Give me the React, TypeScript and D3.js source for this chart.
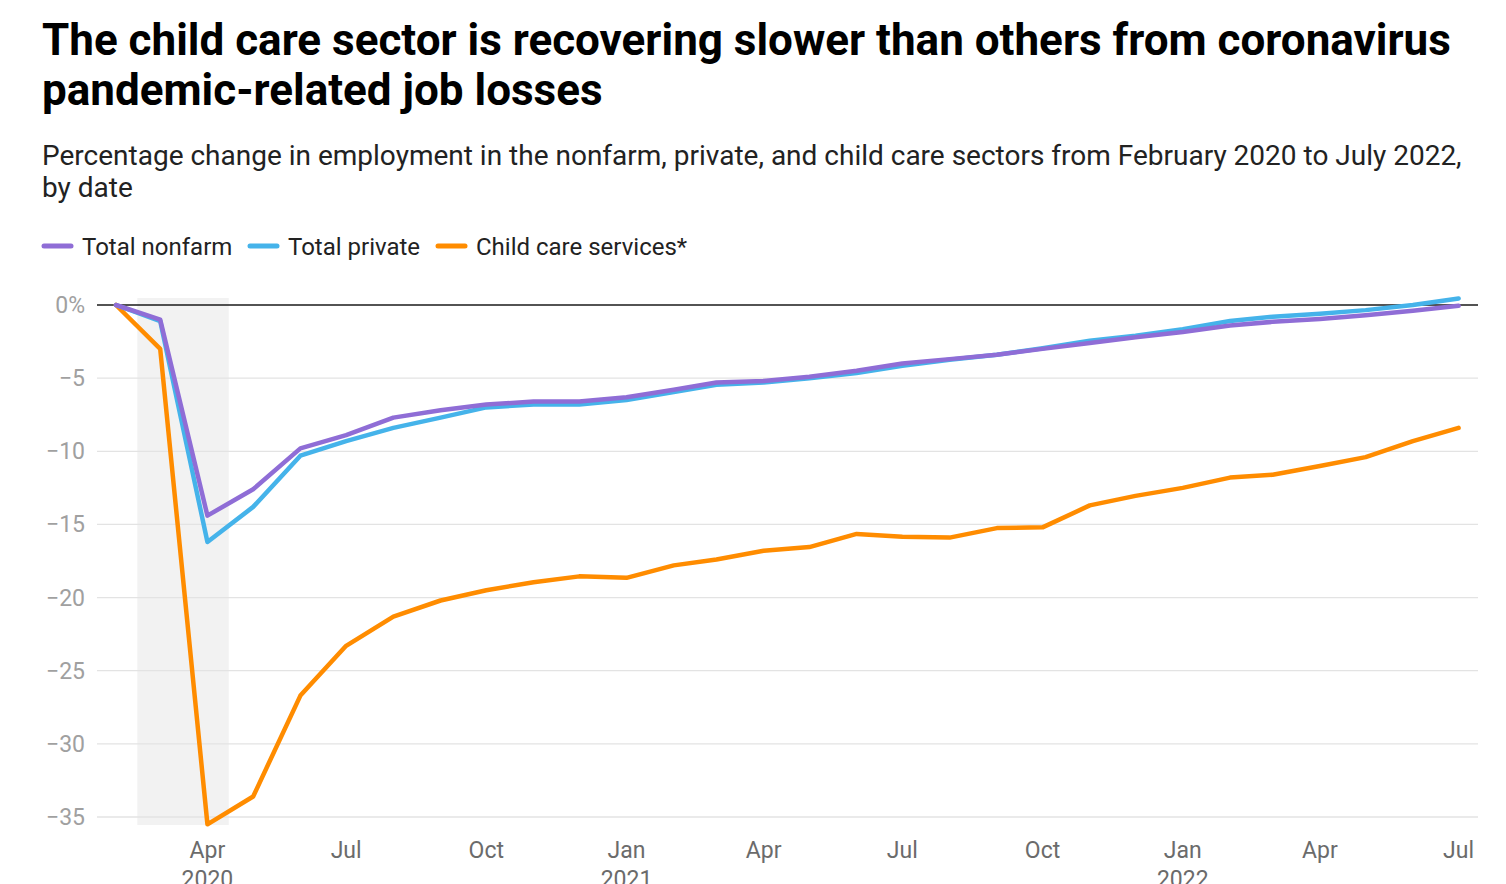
import * as d3 from "d3";
import { useEffect, useRef } from "react";

// months from Feb 2020 to Jul 2022
const months = d3.timeMonths(new Date(2020, 1, 1), new Date(2022, 7, 1));

const nonfarm = [
  0, -1.0, -14.4, -12.6, -9.8, -8.9, -7.7, -7.2, -6.8, -6.6, -6.6,
  -6.3, -5.8, -5.3, -5.2, -4.9, -4.5, -4.0, -3.7, -3.4, -3.0, -2.6, -2.2,
  -1.85, -1.4, -1.15, -0.95, -0.7, -0.4, -0.05,
];
const privateSector = [
  0, -1.1, -16.2, -13.8, -10.3, -9.3, -8.4, -7.7, -7.0, -6.8, -6.8,
  -6.5, -5.95, -5.45, -5.3, -5.0, -4.65, -4.15, -3.75, -3.4, -2.95, -2.45, -2.1,
  -1.65, -1.1, -0.8, -0.6, -0.35, 0.0, 0.45,
];
const childCare = [
  0, -3.0, -35.5, -33.6, -26.7, -23.3, -21.3, -20.2, -19.5, -18.95, -18.55,
  -18.65, -17.8, -17.4, -16.8, -16.55, -15.65, -15.85, -15.9, -15.25, -15.2, -13.7, -13.05,
  -12.5, -11.8, -11.6, -11.0, -10.4, -9.3, -8.4,
];

const seriesNames = ["Total nonfarm", "Total private", "Child care services*"];
const seriesColors = ["#8f6dd6", "#45b3ea", "#ff8c00"];

const yTicks = [0, -5, -10, -15, -20, -25, -30, -35];
const xTickDates = [
  new Date(2020, 3, 1), new Date(2020, 6, 1), new Date(2020, 9, 1),
  new Date(2021, 0, 1), new Date(2021, 3, 1), new Date(2021, 6, 1),
  new Date(2021, 9, 1), new Date(2022, 0, 1), new Date(2022, 3, 1),
  new Date(2022, 6, 1),
];
// recession shading: mid-Feb to mid-Apr 2020
const recession = [new Date(2020, 1, 15), new Date(2020, 3, 15)];

const App = () => {
  const ref = useRef<SVGSVGElement>(null);

  useEffect(() => {
    const svg = d3.select(ref.current);
    svg.selectAll("*").remove();
    const font = "Roboto, 'Noto Sans', sans-serif";

    const x = d3.scaleTime().domain([months[0], months[months.length - 1]]).range([116, 1458.6]);
    const y = d3.scaleLinear().domain([0, -35]).range([305, 817]);

    // title + subtitle
    const title = svg.append("g").attr("font-family", font).attr("fill", "#000");
    title.append("text").attr("x", 42).attr("y", 55).attr("font-size", 44).attr("font-weight", 700)
      .text("The child care sector is recovering slower than others from coronavirus");
    title.append("text").attr("x", 42).attr("y", 105).attr("font-size", 44).attr("font-weight", 700)
      .text("pandemic-related job losses");
    title.append("text").attr("x", 42).attr("y", 165).attr("font-size", 28).attr("fill", "#222")
      .text("Percentage change in employment in the nonfarm, private, and child care sectors from February 2020 to July 2022,");
    title.append("text").attr("x", 42).attr("y", 197).attr("font-size", 28).attr("fill", "#222")
      .text("by date");

    // legend
    const legendX = [44, 250, 438];
    const legend = svg.append("g").attr("font-family", font);
    seriesNames.forEach((name, i) => {
      legend.append("line")
        .attr("x1", legendX[i]).attr("x2", legendX[i] + 27)
        .attr("y1", 246).attr("y2", 246)
        .attr("stroke", seriesColors[i]).attr("stroke-width", 5).attr("stroke-linecap", "round");
      legend.append("text").attr("x", legendX[i] + 38).attr("y", 255)
        .attr("font-size", 24).attr("fill", "#222").text(name);
    });

    // recession band
    svg.append("rect")
      .attr("x", x(recession[0])).attr("width", x(recession[1]) - x(recession[0]))
      .attr("y", 298).attr("height", 527)
      .attr("fill", "#f2f2f2");

    // gridlines + y labels
    const grid = svg.append("g");
    yTicks.forEach((t) => {
      grid.append("line")
        .attr("x1", 97).attr("x2", 1478)
        .attr("y1", y(t)).attr("y2", y(t))
        .attr("stroke", t === 0 ? "#1a1a1a" : "#e3e3e3")
        .attr("stroke-width", t === 0 ? 1.6 : 1.3);
      grid.append("text")
        .attr("x", 85).attr("y", y(t) + 8)
        .attr("text-anchor", "end")
        .attr("font-family", font).attr("font-size", 23).attr("fill", "#a0a0a0")
        .text(t === 0 ? "0%" : "\u2212" + Math.abs(t));
    });

    // x labels
    const fmtMonth = d3.timeFormat("%b");
    const xAxis = svg.append("g").attr("font-family", font).attr("font-size", 23).attr("fill", "#6b6b6b")
      .attr("text-anchor", "middle");
    xTickDates.forEach((d, i) => {
      xAxis.append("text").attr("x", x(d)).attr("y", 858).text(fmtMonth(d));
      if (i === 0 || d.getMonth() === 0) {
        xAxis.append("text").attr("x", x(d)).attr("y", 887).text(d.getFullYear());
      }
    });

    // lines (child care first, nonfarm on top)
    const line = d3.line<number>()
      .x((_, i) => x(months[i]))
      .y((v) => y(v));
    const allSeries = [nonfarm, privateSector, childCare];
    [2, 1, 0].forEach((i) => {
      svg.append("path")
        .datum(allSeries[i])
        .attr("d", line)
        .attr("fill", "none")
        .attr("stroke", seriesColors[i])
        .attr("stroke-width", 4.5)
        .attr("stroke-linejoin", "round")
        .attr("stroke-linecap", "round");
    });
  }, []);

  return (
    <svg
      ref={ref}
      width={1506}
      height={884}
      style={{ position: "absolute", left: 0, top: 0, background: "#fff" }}
    />
  );
};

export default App;
